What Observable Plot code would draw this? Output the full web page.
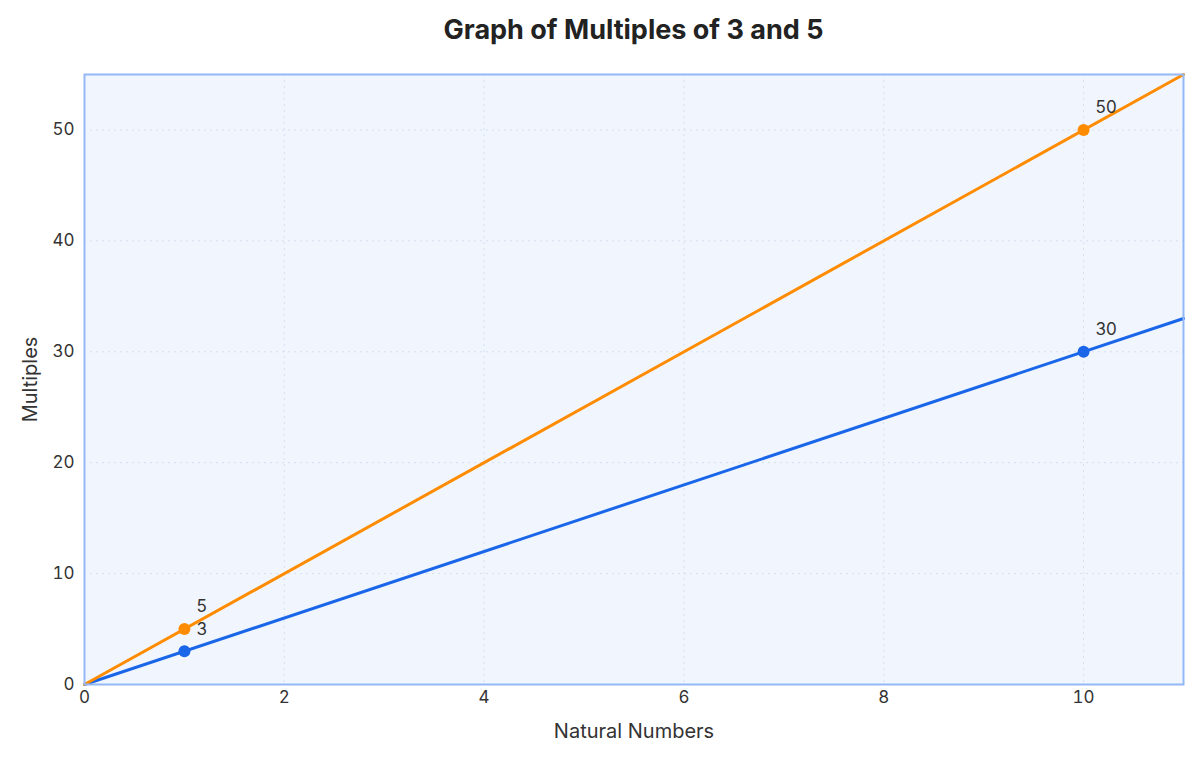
<!DOCTYPE html>
<html>
<head>
<meta charset="utf-8">
<script src="https://cdn.jsdelivr.net/npm/d3@7"></script>
<script src="https://cdn.jsdelivr.net/npm/@observablehq/plot@0.6"></script>
<style>
  html, body { margin: 0; padding: 0; background: #ffffff; }
  body { width: 1200px; height: 761px; overflow: hidden; font-family: Inter, "Noto Sans", sans-serif; }
  #title { height: 60px; line-height: 60px; text-align: center; font-size: 27px; font-weight: 700; color: #222222; padding-left: 84px; padding-right: 17px; }
  g[aria-label="x-axis label"] text, g[aria-label="y-axis label"] text { font-size: 20px; }
</style>
</head>
<body>
<div id="title">Graph of Multiples of 3 and 5</div>
<div id="chart"></div>
<script>
const seriesNames = ["Multiples of 3", "Multiples of 5"];
const lineX = [0, 11];
const lineY3 = [0, 33];
const lineY5 = [0, 55];
const pointX = [1, 10];
const pointY3 = [3, 30];
const pointY5 = [5, 50];
const xTicks = [0, 2, 4, 6, 8, 10];
const yTicks = [0, 10, 20, 30, 40, 50];
const colors = ["#1a66e8", "#ff8c00"];

const lineData = [
  ...lineX.map((x, i) => ({x, y: lineY3[i], s: seriesNames[0]})),
  ...lineX.map((x, i) => ({x, y: lineY5[i], s: seriesNames[1]}))
];
const pointData = [
  ...pointX.map((x, i) => ({x, y: pointY3[i], s: seriesNames[0]})),
  ...pointX.map((x, i) => ({x, y: pointY5[i], s: seriesNames[1]}))
];

const chart = Plot.plot({
  width: 1200,
  height: 701,
  marginTop: 14,
  marginBottom: 77,
  marginLeft: 84,
  marginRight: 17,
  style: { fontFamily: "Inter, 'Noto Sans', sans-serif", fontSize: "17px", color: "#333333", background: "transparent" },
  x: { domain: [0, 11], ticks: xTicks, tickSize: 0, tickPadding: 6, label: "Natural Numbers", labelAnchor: "center", labelOffset: 53, labelArrow: "none" },
  y: { domain: [0, 55], ticks: yTicks, tickSize: 0, tickPadding: 10, label: "Multiples", labelAnchor: "center", labelOffset: 62, labelArrow: "none" },
  color: { domain: seriesNames, range: colors },
  marks: [
    Plot.frame({ fill: "#f1f6fe", stroke: "none" }),
    Plot.gridX(xTicks, { stroke: "#d5dff0", strokeOpacity: 1, strokeDasharray: "2,4", strokeWidth: 1 }),
    Plot.gridY(yTicks, { stroke: "#d5dff0", strokeOpacity: 1, strokeDasharray: "2,4", strokeWidth: 1 }),
    Plot.line(lineData, { x: "x", y: "y", z: "s", stroke: "s", strokeWidth: 3 }),
    Plot.dot(pointData, { x: "x", y: "y", fill: "s", r: 6 }),
    Plot.text(pointData, { x: "x", y: "y", text: d => String(d.y), textAnchor: "start", dx: 12, dy: -22, fill: "#333333", fontSize: 17 }),
    Plot.frame({ stroke: "#93b8f5", strokeWidth: 2 })
  ]
});
document.getElementById("chart").appendChild(chart);
</script>
</body>
</html>
